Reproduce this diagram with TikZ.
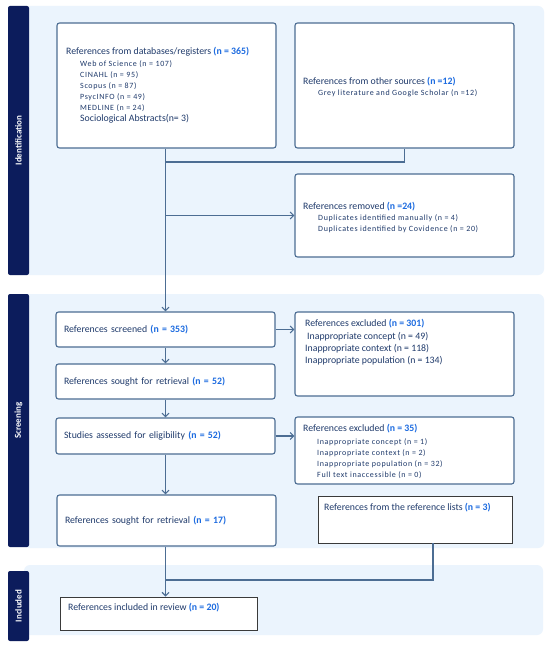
\documentclass[tikz,border=0pt]{standalone}
\usepackage{fontspec}
\setmainfont{Carlito}
\usetikzlibrary{arrows.meta,positioning,calc}
\definecolor{navy}{HTML}{0C1C5C}
\definecolor{panel}{HTML}{EBF4FD}
\definecolor{frame}{HTML}{4C6D93}
\definecolor{ink}{HTML}{1F3A6B}
\definecolor{num}{HTML}{1C6BE0}
\definecolor{plain}{HTML}{3A3A3A}
\newcommand{\nn}[1]{\textcolor{num}{\textbf{#1}}}
\newcommand{\sm}{\fontsize{8}{11.1}\selectfont\addfontfeatures{LetterSpace=8}}

\begin{document}
\begin{tikzpicture}[x=1pt,y=-1pt,
  box/.style={draw=frame,line width=1.1pt,fill=white,rounded corners=2.5pt,inner sep=0pt},
  flatbox/.style={draw=plain,line width=0.9pt,fill=white,inner sep=0pt},
  onebox/.style={box,inner xsep=8pt,text width=203pt,align=left,text=ink,
    font=\fontsize{9.8}{11}\selectfont},
  txt/.style={font=\fontsize{9.8}{11.1}\selectfont,text=ink,align=left,inner sep=0pt,anchor=north west},
  band/.style={fill=navy,rounded corners=2pt,text=white,font=\fontsize{9}{10}\selectfont\bfseries,rotate=90,inner sep=0pt},
  flow/.style={draw=frame,line width=1.1pt},
  arr/.style={flow,-{Straight Barb[length=3.5pt,width=7pt]}}]

  % page and panels
  \useasboundingbox[fill=white] (0,0) rectangle (550,647);
  \fill[panel,rounded corners=6pt] (24,6) rectangle (544,275);
  \fill[panel,rounded corners=6pt] (24,294) rectangle (544,548);
  \fill[panel,rounded corners=6pt] (24,565) rectangle (543,635);
  \node[band,minimum width=269pt,minimum height=21pt] (idband) at (18.5,140.5) {Identification};
  \node[band,minimum width=253pt,minimum height=21pt] (scband) at (18.5,420.5) {Screening};
  \node[band,minimum width=70pt,minimum height=21pt] (inband) at (18.5,606) {Included};

  % Identification
  \node[box,minimum width=219pt,minimum height=125pt] (db) at (166.5,85.5) {};
  \node[txt] (dbtxt) at (66,47.5) {References from databases/registers \nn{(n = 365)}\\
    \hspace*{14pt}{\sm Web of Science (n = 107)}\\
    \hspace*{14pt}{\sm CINAHL (n = 95)}\\
    \hspace*{14pt}{\sm Scopus (n = 87)}\\
    \hspace*{14pt}{\sm PsycINFO (n = 49)}\\
    \hspace*{14pt}{\sm MEDLINE (n = 24)}\\
    \hspace*{14pt}Sociological Abstracts(n= 3)};
  \node[box,minimum width=219pt,minimum height=125pt] (other) at (404.5,85.5) {};
  \node[txt] (othertxt) at (303,77) {References from other sources \nn{(n =12)}\\
    \hspace*{15pt}{\sm Grey literature and Google Scholar (n =12)}};
  \node[box,minimum width=219pt,minimum height=83pt] (removed) at (404.5,215.5) {};
  \node[txt] (removedtxt) at (303,202) {References removed \nn{(n =24)}\\
    \hspace*{15pt}{\sm Duplicates identified manually (n = 4)}\\
    \hspace*{15pt}{\sm Duplicates identified by Covidence (n = 20)}};

  % Screening
  \node[onebox,minimum height=35pt] (screened) at (165.5,329.5) {References screened \nn{(n = 353)}};
  \node[onebox,minimum height=35pt] (sought) at (165.5,381.5) {References sought for retrieval \nn{(n = 52)}};
  \node[onebox,minimum height=36pt] (assessed) at (165.5,436) {Studies assessed for eligibility \nn{(n = 52)}};
  \node[onebox,minimum height=51pt] (sought17) at (166.5,520.5) {References sought for retrieval \nn{(n = 17)}};
  \node[box,minimum width=219pt,minimum height=84pt] (excl1) at (404.5,354) {};
  \node[txt,font=\fontsize{9.8}{12.3}\selectfont] (excl1txt) at (305,319.5) {References excluded \nn{(n = 301)}\\
    \hspace*{2pt}Inappropriate concept (n = 49)\\
    Inappropriate context (n = 118)\\
    Inappropriate population (n = 134)};
  \node[box,minimum width=219pt,minimum height=67pt] (excl2) at (404.5,450.5) {};
  \node[txt] (excl2txt) at (303,424.5) {References excluded \nn{(n = 35)}\\[1.5pt]
    \hspace*{14pt}{\sm Inappropriate concept (n = 1)}\\
    \hspace*{14pt}{\sm Inappropriate context (n = 2)}\\
    \hspace*{14pt}{\sm Inappropriate population (n = 32)}\\
    \hspace*{14pt}{\sm Full text inaccessible (n = 0)}};
  \node[flatbox,minimum width=194pt,minimum height=47pt] (reflists) at (415,519.5) {};
  \node[txt] (reflisttxt) at (324,503.5) {References from the reference lists \nn{(n = 3)}};

  % Included
  \node[flatbox,minimum width=197pt,minimum height=33pt] (included) at (158.5,613.5) {};
  \node[txt] (includedtxt) at (68,603.5) {References included in review \nn{(n = 20)}};

  % connectors
  \coordinate (join1) at (165,162);
  \coordinate (join2) at (165,580);
  \draw[flow] (other.south) |- (join1);
  \draw[arr] (screened.north |- db.south) -- (screened.north);
  \draw[arr] (screened.north |- removed.west) -- (removed.west);
  \draw[arr] (screened.east) -- (screened.east -| excl1.west);
  \draw[arr] (assessed.east) -- (assessed.east -| excl2.west);
  \draw[arr] (screened) -- (sought);
  \draw[arr] (sought) -- (assessed);
  \draw[arr] (assessed) -- (assessed.south |- sought17.north);
  \draw[arr] (assessed.south |- sought17.south) -- (assessed.south |- included.north);
  \draw[flow] ([xshift=18pt]reflists.south) |- (join2);
\end{tikzpicture}
\end{document}
